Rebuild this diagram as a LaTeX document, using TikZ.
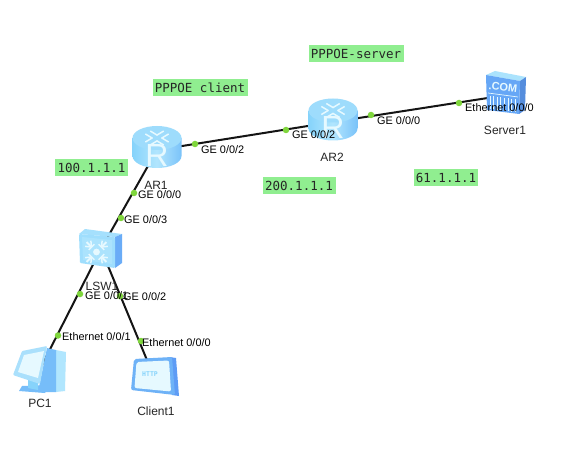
\documentclass[tikz,border=0pt]{standalone}
\usepackage{fontspec}
\setmainfont{Liberation Sans}
\newfontfamily\monof{DejaVu Sans Mono}
\definecolor{note}{HTML}{90EE90}
\definecolor{dotg}{HTML}{7FD63C}
\definecolor{iconL}{HTML}{C4EEFF}
\definecolor{iconM}{HTML}{86D3FB}
\definecolor{iconD}{HTML}{5E9CF5}
\definecolor{iconP}{HTML}{E6F9FF}
\tikzset{
  x=1pt,y=-1pt,
  netlink/.style={line width=2pt,black!92},
  devbox/.style={inner sep=0pt,minimum width=#1,minimum height=#1},
  portdot/.style={circle,fill=dotg,inner sep=0pt,minimum size=6.5pt},
  portlab/.style={inner sep=0pt,anchor=west,font=\fontsize{10.9}{12}\selectfont,text=black},
  devname/.style={inner sep=0pt,font=\fontsize{12}{13}\selectfont,text=black!85},
  notetag/.style={fill=note,inner sep=0pt,minimum height=17pt,font=\monof\fontsize{12.5}{14}\selectfont,text=black!85},
  pics/routericon/.style={code={
    \shade[left color=iconM,right color=iconM!70!iconD,middle color=iconL!70!iconM]
      (-24.5,-9) -- (-24.5,9) arc[x radius=24.5,y radius=12,start angle=180,end angle=0] -- (24.5,-9) -- cycle;
    \fill[iconM!80!white] (0,-9) ellipse[x radius=24.5,y radius=12];
    \foreach \a in {45,135,225,315}{
      \begin{scope}[shift={(0,-9)},yscale=.6,rotate=\a]
        \draw[iconP,line width=1.5pt] (3,-3.5) -- (13,-3.5);
        \draw[iconP,line width=1.5pt] (3,3.5) -- (13,3.5);
      \end{scope}
    }
    \node[inner sep=0pt,text=iconP,font=\fontsize{32}{33}\selectfont] at (0,8) {R};
  }}
}
\begin{document}
\begin{tikzpicture}
\useasboundingbox (0,0) rectangle (564,454);
\fill[white] (0,0) rectangle (564,454);

% device anchors
\node[devbox=24pt] (ar1) at (157,150) {};
\node[devbox=24pt] (ar2) at (333,122) {};
\node[devbox=24pt] (srv) at (507,95) {};
\node[devbox=24pt] (lsw) at (101,249) {};
\node[devbox=24pt] (pc) at (40,369) {};
\node[devbox=24pt] (cli) at (154,377) {};

% links
\draw[netlink] (ar1.center) -- (ar2.center);
\draw[netlink] (ar2.center) -- (srv.center);
\draw[netlink] (ar1.center) -- (lsw.center);
\draw[netlink] (lsw.center) -- (pc.center);
\draw[netlink] (lsw.center) -- (cli.center);

% routers
\pic at (157,147) {routericon};
\pic at (333,119.5) {routericon};

% server
\fill[iconL!60!iconM] (495,71) -- (526,77) -- (520,81) -- (486,75) -- cycle;
\fill[iconD!90!black] (520,81) -- (526,77) -- (525,110) -- (519,114) -- cycle;
\fill[iconD!80!iconM] (486,75) -- (520,81) -- (519,114) -- (487,110) -- cycle;
\node[inner sep=0pt,text=iconP,rotate=-7,font=\bfseries\fontsize{11}{12}\selectfont] at (503,87.5) {.COM};
\foreach \i in {0,...,7}{\draw[iconP,line width=.7pt] ({490+\i*3.6},{96+\i*.5}) -- ({490+\i*3.6},{109+\i*.5});}
\draw[iconP,line width=.7pt] (488,93) -- (518,97);

% switch
\fill[iconL!50!iconM] (85,229) -- (122,234) -- (115,237) -- (79,234) -- cycle;
\fill[iconD!70!iconM] (115,237) -- (122,234) -- (122,263) -- (115,268) -- cycle;
\fill[iconM!60!iconL,rounded corners=1pt] (79,234) -- (115,237) -- (115,268) -- (80,263) -- cycle;
\fill[iconL!60!iconM] (82,237) -- (112,240) -- (112,264) -- (83,260) -- cycle;
\fill[iconP] (96.5,252) circle[radius=3.4];
\foreach \a in {45,135,225,315}{
  \begin{scope}[shift={(96.5,252)},rotate=\a]
    \draw[iconP,line width=1.8pt] (14,0) -- (7,0);
    \draw[iconP,line width=1.5pt] (7,-4) -- (7,4);
    \draw[iconP,line width=1.5pt] (12,-4) -- (7,0);
    \draw[iconP,line width=1.5pt] (12,4) -- (7,0);
  \end{scope}
}

% pc
\fill[iconL!70!iconM] (56,350) -- (66,352) -- (65,391) -- (56,392) -- cycle;
\fill[iconD!40!iconM] (47,348) -- (56,350) -- (56,392) -- (38,392) -- cycle;
\fill[iconD!40!iconM] (50,385) -- (45,393) -- (19,391) -- (22,386) -- cycle;
\fill[iconM] (28,378) -- (38,382) -- (38,390) -- (28,388) -- cycle;
\fill[iconM!70!white,rounded corners=1pt] (22,351) -- (47,346) -- (40,384) -- (13,375) -- cycle;
\fill[iconP] (24,355) -- (44,351) -- (38,378) -- (18,372) -- cycle;

% client
\fill[iconD] (170,357) -- (176,358) -- (179,396) -- (172,395) -- cycle;
\fill[iconD!60!iconM,rounded corners=2pt] (134,359) -- (172,357) -- (175,395) -- (131,390) -- cycle;
\fill[iconP,rounded corners=2pt] (136.5,362) -- (169,360.5) -- (171,391.5) -- (134.5,388) -- cycle;
\node[inner sep=0pt,text=iconM,font=\monof\bfseries\fontsize{6.5}{7}\selectfont] at (150,374.5) {HTTP};

% ports
\node[portdot] (p1) at (195,144) {};
\node[portdot] (p2) at (286,130) {};
\node[portdot] (p3) at (371,115) {};
\node[portdot] (p4) at (459,103) {};
\node[portdot] (p5) at (134,193) {};
\node[portdot] (p6) at (121,218) {};
\node[portdot] (p7) at (80,294) {};
\node[portdot] (p8) at (120,296) {};
\node[portdot] (p9) at (58,335.5) {};
\node[portdot] (p10) at (141,341) {};

% port labels
\node[portlab] (l1) at (201,150) {GE 0/0/2};
\node[portlab] (l2) at (292,135) {GE 0/0/2};
\node[portlab] (l3) at (377,121) {GE 0/0/0};
\node[portlab] (l4) at (465,108) {Ethernet 0/0/0};
\node[portlab] (l5) at (138,195) {GE 0/0/0};
\node[portlab] (l6) at (124,220) {GE 0/0/3};
\node[portlab] (l7) at (85,296) {GE 0/0/1};
\node[portlab] (l8) at (123,297) {GE 0/0/2};
\node[portlab] (l9) at (62,337) {Ethernet 0/0/1};
\node[portlab] (l10) at (142,343) {Ethernet 0/0/0};

% device names
\node[devname] (n1) at (156,185) {AR1};
\node[devname] (n2) at (332,157) {AR2};
\node[devname] (n3) at (505,130) {Server1};
\node[devname] (n4) at (102,286) {LSW1};
\node[devname] (n5) at (40,403) {PC1};
\node[devname] (n6) at (156,411) {Client1};

% notes
\node[notetag,minimum width=95pt] (t1) at (200,87.5) {PPPOE client};
\node[notetag,minimum width=95pt] (t2) at (356,53.5) {PPPOE-server};
\node[notetag,minimum width=73pt] (t3) at (91.5,168) {100.1.1.1};
\node[notetag,minimum width=73pt] (t4) at (299,186) {200.1.1.1};
\node[notetag,minimum width=64pt] (t5) at (446,177.5) {61.1.1.1};
\end{tikzpicture}
\end{document}
